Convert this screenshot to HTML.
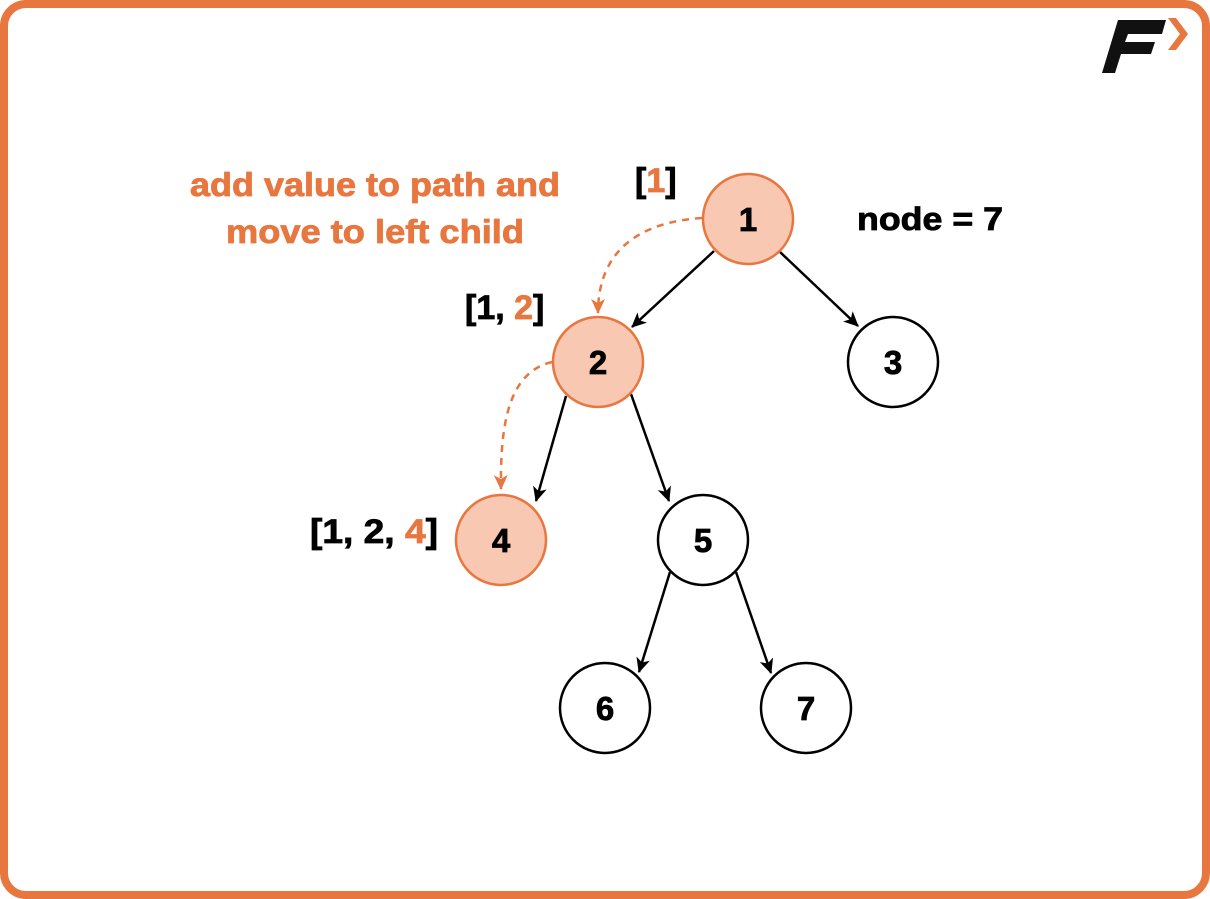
<!DOCTYPE html>
<html><head><meta charset="utf-8"><style>
html,body{margin:0;padding:0;background:#fff;width:1210px;height:899px;overflow:hidden}
svg text{font-family:"Liberation Sans",sans-serif;font-weight:bold}
</style></head><body>
<svg width="1210" height="899" viewBox="0 0 1210 899" xmlns="http://www.w3.org/2000/svg">
<defs>
<marker id="a" markerWidth="18" markerHeight="18" refX="15" refY="9" orient="auto" markerUnits="userSpaceOnUse"><path d="M1,2 L16,9 L1,16 L5,9 Z" fill="#000"/></marker>
<marker id="o" markerWidth="18" markerHeight="18" refX="15" refY="9" orient="auto" markerUnits="userSpaceOnUse"><path d="M1,2 L16,9 L1,16 L5,9 Z" fill="#E8763F"/></marker>
</defs>
<rect x="4" y="4" width="1202" height="891" rx="22" fill="#fff" stroke="#E8763F" stroke-width="8"/>
<path d="M1118,20 L1166,20 L1162,34 L1128,34 L1125,42 L1155,42 L1151,54 L1121,54 L1115,73 L1102,73 Z" fill="#111"/>
<path d="M1168,18 L1176,18 L1188,34 L1176,50 L1168,50 L1180,34 Z" fill="#E8763F"/>
<g stroke="#000" stroke-width="2.5" fill="none">
<line x1="714" y1="251" x2="632" y2="327" marker-end="url(#a)"/>
<line x1="780" y1="252" x2="858" y2="326" marker-end="url(#a)"/>
<line x1="566" y1="396" x2="536" y2="501" marker-end="url(#a)"/>
<line x1="631" y1="394" x2="669" y2="501" marker-end="url(#a)"/>
<line x1="670" y1="572" x2="639" y2="672" marker-end="url(#a)"/>
<line x1="736" y1="572" x2="771" y2="673" marker-end="url(#a)"/>
</g>
<g stroke="#E8763F" stroke-width="2.5" fill="none" stroke-dasharray="7,6">
<path d="M702,218 C640,222 598,250 598,313" marker-end="url(#o)"/>
<path d="M552,362 C510,372 500,420 501,489" marker-end="url(#o)"/>
</g>
<g stroke-width="2.5">
<circle cx="748" cy="219" r="45" fill="#F8C8B2" stroke="#E8763F"/>
<circle cx="598" cy="362" r="45" fill="#F8C8B2" stroke="#E8763F"/>
<circle cx="893" cy="362" r="45" fill="#fff" stroke="#000"/>
<circle cx="501" cy="540" r="45" fill="#F8C8B2" stroke="#E8763F"/>
<circle cx="703" cy="540" r="45" fill="#fff" stroke="#000"/>
<circle cx="605" cy="708" r="45" fill="#fff" stroke="#000"/>
<circle cx="806" cy="708" r="45" fill="#fff" stroke="#000"/>
</g>
<g font-size="33" text-anchor="middle" fill="#000" stroke="#000" stroke-width="0.8">
<text x="748" y="231">1</text>
<text x="598" y="374">2</text>
<text x="893" y="374">3</text>
<text x="501" y="552">4</text>
<text x="703" y="552">5</text>
<text x="605" y="720">6</text>
<text x="806" y="720">7</text>
</g>
<g font-size="34" fill="#000" stroke-width="0.8">
<text x="635" y="192" stroke="#000">[<tspan fill="#E8763F" stroke="#E8763F">1</tspan>]</text>
<text x="465" y="319" stroke="#000">[1, <tspan fill="#E8763F" stroke="#E8763F">2</tspan>]</text>
<text x="310" y="543" stroke="#000" textLength="128" lengthAdjust="spacingAndGlyphs">[1, 2, <tspan fill="#E8763F" stroke="#E8763F">4</tspan>]</text>
<text x="857" y="230" font-size="32" stroke="#000" textLength="146" lengthAdjust="spacingAndGlyphs">node = 7</text>
</g>
<g font-size="33" fill="#E8763F" stroke="#E8763F" stroke-width="0.8" text-anchor="middle">
<text x="375" y="196" textLength="370" lengthAdjust="spacingAndGlyphs">add value to path and</text>
<text x="375" y="243" textLength="298" lengthAdjust="spacingAndGlyphs">move to left child</text>
</g>
</svg>
</body></html>
